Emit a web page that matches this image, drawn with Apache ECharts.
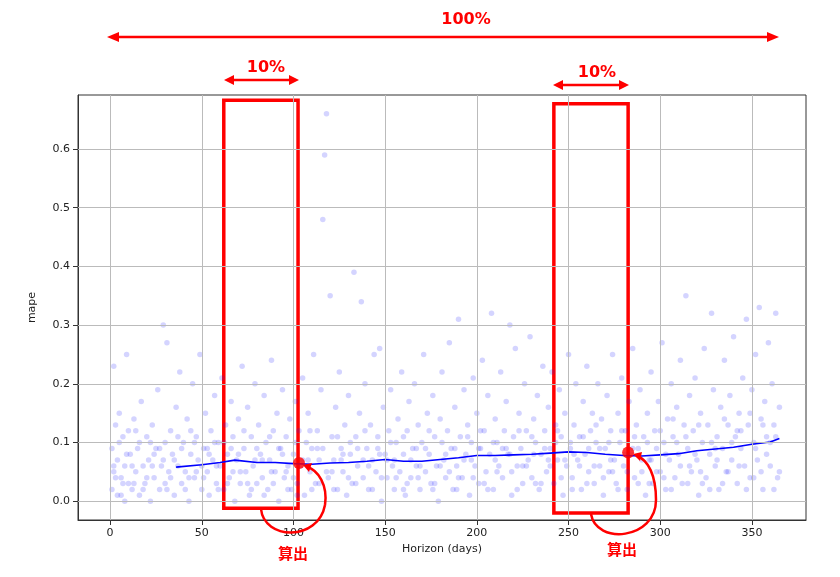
<!DOCTYPE html>
<html><head><meta charset="utf-8">
<script src="https://cdn.jsdelivr.net/npm/echarts@6/dist/echarts.min.js"></script>
<style>html,body{margin:0;padding:0;background:#fff}#c{width:840px;height:577px}</style>
</head><body><div id="c"></div>
<script>
const xTicks=[0,50,100,150,200,250,300,350];
const yTicks=[0,0.1,0.2,0.3,0.4,0.5,0.6];
const lineX=[36,50,60,68,80,90,100,110,120,130,140,150,160,170,180,190,200,210,220,230,240,250,260,270,280,290,300,310,320,330,340,350,360,365];
const lineY=[0.058,0.062,0.066,0.070,0.066,0.066,0.064,0.063,0.065,0.066,0.068,0.071,0.068,0.068,0.071,0.074,0.078,0.078,0.079,0.080,0.082,0.084,0.083,0.080,0.078,0.077,0.079,0.081,0.086,0.089,0.092,0.097,0.101,0.107];
const scatterPts=[
[1,0.02],[1,0.09],[2,0.23],[2,0.05],[3,0.13],[4,0.01],[4,0.07],[5,0.15],[6,0.04],[7,0.11],[8,0.0],[8,0.06],[9,0.25],[10,0.03],[10,0.12],[11,0.08],[12,0.02],[13,0.14],[14,0.05],[15,0.09],[16,0.01],[17,0.17],[18,0.06],[19,0.03],[20,0.11],[21,0.07],[22,0.0],[23,0.13],[24,0.04],[25,0.09],[26,0.19],[27,0.02],[28,0.06],[29,0.30],[30,0.1],[30,0.03],[31,0.27],[32,0.05],[33,0.12],[34,0.08],[35,0.01],[36,0.16],[37,0.06],[38,0.22],[39,0.03],[40,0.1],[41,0.05],[42,0.14],[43,0.0],[44,0.08],[45,0.2],[46,0.04],[47,0.11],[48,0.07],[49,0.25],[50,0.02],[51,0.09],[52,0.15],[53,0.05],[54,0.01],[55,0.12],[56,0.07],[57,0.18],[58,0.03],[59,0.1],[60,0.06],[61,0.21],[62,0.02],[63,0.13],[64,0.08],[65,0.04],[66,0.17],[67,0.11],[68,0.0],[69,0.07],[70,0.14],[71,0.03],[72,0.23],[73,0.09],[74,0.05],[75,0.16],[76,0.01],[77,0.11],[78,0.06],[79,0.2],[80,0.03],[81,0.13],[82,0.08],[83,0.04],[84,0.18],[85,0.1],[86,0.02],[87,0.07],[88,0.24],[89,0.12],[90,0.05],[91,0.15],[92,0.0],[93,0.09],[94,0.19],[95,0.04],[96,0.11],[97,0.06],[98,0.14],[99,0.02],[100,0.08],[101,0.17],[102,0.03],[103,0.12],[104,0.06],[105,0.21],[106,0.01],[107,0.1],[108,0.15],[109,0.05],[110,0.09],[111,0.25],[112,0.03],[113,0.12],[114,0.07],[115,0.19],[116,0.48],[117,0.59],[118,0.66],[119,0.04],[120,0.35],[121,0.11],[122,0.07],[123,0.16],[124,0.02],[125,0.22],[126,0.09],[127,0.05],[128,0.13],[129,0.01],[130,0.18],[131,0.08],[132,0.03],[133,0.39],[134,0.11],[135,0.06],[136,0.15],[137,0.34],[138,0.04],[139,0.2],[140,0.09],[141,0.02],[142,0.13],[143,0.07],[144,0.25],[145,0.05],[146,0.11],[147,0.26],[148,0.0],[149,0.16],[150,0.08],[151,0.04],[152,0.12],[153,0.19],[154,0.06],[155,0.02],[156,0.1],[157,0.14],[158,0.05],[159,0.22],[160,0.08],[161,0.01],[162,0.12],[163,0.17],[164,0.04],[165,0.09],[166,0.2],[167,0.06],[168,0.13],[169,0.02],[170,0.1],[171,0.25],[172,0.05],[173,0.15],[174,0.08],[175,0.03],[176,0.18],[177,0.11],[178,0.06],[179,0.0],[180,0.14],[181,0.22],[182,0.07],[183,0.04],[184,0.12],[185,0.27],[186,0.09],[187,0.02],[188,0.16],[189,0.06],[190,0.31],[191,0.11],[192,0.04],[193,0.19],[194,0.08],[195,0.13],[196,0.01],[197,0.1],[198,0.21],[199,0.06],[200,0.15],[201,0.03],[202,0.09],[203,0.24],[204,0.12],[205,0.05],[206,0.18],[207,0.08],[208,0.32],[209,0.02],[210,0.14],[211,0.1],[212,0.06],[213,0.22],[214,0.04],[215,0.12],[216,0.17],[217,0.08],[218,0.3],[219,0.01],[220,0.11],[221,0.26],[222,0.06],[223,0.15],[224,0.09],[225,0.03],[226,0.2],[227,0.12],[228,0.07],[229,0.28],[230,0.04],[231,0.14],[232,0.1],[233,0.18],[234,0.02],[235,0.08],[236,0.23],[237,0.12],[238,0.05],[239,0.16],[240,0.09],[241,0.22],[242,0.03],[243,0.13],[244,0.07],[245,0.19],[246,0.11],[247,0.01],[248,0.15],[249,0.06],[250,0.25],[251,0.09],[252,0.04],[253,0.13],[254,0.2],[255,0.07],[256,0.11],[257,0.02],[258,0.17],[259,0.08],[260,0.23],[261,0.05],[262,0.12],[263,0.15],[264,0.03],[265,0.1],[266,0.2],[267,0.06],[268,0.14],[269,0.01],[270,0.09],[271,0.18],[272,0.05],[273,0.12],[274,0.25],[275,0.07],[276,0.03],[277,0.15],[278,0.1],[279,0.21],[280,0.06],[281,0.12],[282,0.02],[283,0.17],[284,0.08],[285,0.26],[286,0.04],[287,0.13],[288,0.09],[289,0.19],[290,0.05],[291,0.11],[292,0.01],[293,0.15],[294,0.07],[295,0.22],[296,0.03],[297,0.12],[298,0.09],[299,0.17],[300,0.05],[301,0.27],[302,0.1],[303,0.02],[304,0.14],[305,0.07],[306,0.2],[307,0.11],[308,0.04],[309,0.16],[310,0.08],[311,0.24],[312,0.03],[313,0.13],[314,0.35],[315,0.09],[316,0.18],[317,0.05],[318,0.12],[319,0.21],[320,0.07],[321,0.01],[322,0.15],[323,0.1],[324,0.26],[325,0.04],[326,0.13],[327,0.08],[328,0.32],[329,0.19],[330,0.06],[331,0.11],[332,0.02],[333,0.16],[334,0.09],[335,0.24],[336,0.05],[337,0.13],[338,0.18],[339,0.07],[340,0.28],[341,0.11],[342,0.03],[343,0.15],[344,0.09],[345,0.21],[346,0.06],[347,0.31],[348,0.13],[349,0.04],[350,0.19],[351,0.1],[352,0.25],[353,0.07],[354,0.33],[355,0.14],[356,0.02],[357,0.17],[358,0.11],[359,0.27],[360,0.06],[361,0.2],[362,0.13],[363,0.32],[364,0.04],[365,0.16],
[3,0.04],[7,0.03],[12,0.06],[18,0.02],[24,0.08],[33,0.04],[41,0.02],[47,0.05],[53,0.09],[58,0.06],[64,0.03],[71,0.05],[77,0.02],[83,0.07],[89,0.03],[96,0.05],[102,0.01],[108,0.07],[114,0.03],[121,0.05],[127,0.08],[134,0.03],[141,0.06],[148,0.04],[155,0.07],[162,0.03],[169,0.06],[176,0.02],[183,0.08],[190,0.04],[197,0.07],[204,0.03],[211,0.05],[218,0.08],[225,0.06],[232,0.03],[239,0.07],[246,0.04],[253,0.08],[260,0.03],[267,0.09],[274,0.05],[281,0.08],[288,0.03],[295,0.07],[302,0.04],[309,0.1],[316,0.06],[323,0.03],[330,0.09],[337,0.05],[344,0.12],[351,0.04],[358,0.08],[365,0.05],
[5,0.1],[14,0.12],[22,0.1],[29,0.07],[37,0.11],[44,0.12],[51,0.04],[57,0.1],[66,0.09],[73,0.12],[80,0.09],[87,0.11],[94,0.08],[101,0.1],[109,0.12],[116,0.09],[124,0.11],[131,0.1],[139,0.12],[146,0.09],[153,0.1],[160,0.11],[167,0.09],[174,0.12],[181,0.1],[188,0.09],[195,0.11],[202,0.12],[209,0.1],[216,0.09],[223,0.12],[230,0.11],[237,0.09],[244,0.12],[251,0.1],[258,0.11],[265,0.13],[272,0.1],[279,0.12],[286,0.11],[293,0.1],[300,0.12],[307,0.14],[314,0.11],[321,0.13],[328,0.1],[335,0.14],[342,0.12],[349,0.15],[356,0.13],[363,0.11],
[2,0.06],[6,0.01],[9,0.08],[13,0.03],[16,0.1],[20,0.04],[23,0.06],[27,0.09],[31,0.02],[35,0.07],[39,0.09],[43,0.04],[46,0.1],[50,0.06],[54,0.08],[59,0.02],[62,0.1],[67,0.05],[70,0.08],[75,0.03],[79,0.07],[84,0.01],[88,0.05],[92,0.09],[97,0.02],[100,0.04],[105,0.07],[110,0.02],[113,0.09],[118,0.05],[122,0.02],[126,0.07],[130,0.04],[135,0.09],[138,0.07],[143,0.02],[147,0.08],[151,0.07],[156,0.04],[160,0.02],[164,0.07],[168,0.04],[172,0.09],[177,0.03],[180,0.06],[185,0.05],[189,0.02],[193,0.07],[198,0.04],[201,0.09],[206,0.02],[210,0.07],[214,0.09],[219,0.05],[222,0.02],[227,0.06],[231,0.08],[235,0.03],[240,0.06],[243,0.1],[248,0.07],[252,0.02],[256,0.06],[261,0.09],[264,0.06],[269,0.04],[273,0.07],[277,0.02],[282,0.05],[285,0.09],[290,0.07],[294,0.03],[298,0.05],[303,0.08],[306,0.02],[311,0.06],[315,0.03],[319,0.08],[322,0.05],[327,0.02],[331,0.07],[334,0.03],[339,0.1],[343,0.06],[347,0.02],[352,0.09],[355,0.05],[360,0.1],[362,0.02]
];
const leftBox=[62,102.5,-0.012,0.683];
const rightBox=[242,282.5,-0.02,0.677];
const dots=[[103,0.065],[282.5,0.083]];

const chart=echarts.init(document.getElementById('c'));
const red='#ff0000';
function boxArea(b){return [{xAxis:b[0],yAxis:b[2]},{xAxis:b[1],yAxis:b[3]}];}
function bz(a,b,c,d){return {type:'bezierCurve',shape:{x1:a[0],y1:a[1],cpx1:b[0],cpy1:b[1],cpx2:c[0],cpy2:c[1],x2:d[0],y2:d[1]},style:{stroke:red,lineWidth:2.5,fill:null},z:10};}
chart.setOption({
  animation:false,
  grid:{left:78,right:34,top:95,bottom:57,show:true,borderColor:'#333',borderWidth:1,backgroundColor:'transparent'},
  xAxis:{type:'value',min:-17.5,max:379.5,name:'Horizon (days)',nameLocation:'middle',nameGap:24,
    nameTextStyle:{color:'#222',fontSize:11,fontFamily:'DejaVu Sans'},
    axisLine:{onZero:false,lineStyle:{color:'#333'}},
    axisLabel:{color:'#222',fontSize:11,fontFamily:'DejaVu Sans',customValues:xTicks},
    axisTick:{show:true,customValues:xTicks,lineStyle:{color:'#333'}},
    splitLine:{show:false}},
  yAxis:{type:'value',min:-0.032,max:0.692,name:'mape',nameLocation:'middle',nameGap:40,
    nameTextStyle:{color:'#222',fontSize:11,fontFamily:'DejaVu Sans'},
    axisLine:{show:true,onZero:false,lineStyle:{color:'#333'}},
    axisLabel:{color:'#222',fontSize:11,fontFamily:'DejaVu Sans',customValues:yTicks,formatter:v=>v.toFixed(1)},
    axisTick:{show:true,customValues:yTicks,lineStyle:{color:'#333'}},
    splitLine:{show:false}},
  series:[
    {type:'line',silent:true,data:[],
      markLine:{symbol:'none',silent:true,label:{show:false},lineStyle:{color:'#bbb',type:'solid',width:1},
        data:xTicks.map(v=>({xAxis:v})).concat(yTicks.map(v=>({yAxis:v})))}},
    {type:'scatter',data:scatterPts,symbolSize:5.5,itemStyle:{color:'rgba(30,30,255,0.24)'},z:2},
    {type:'line',data:lineX.map((x,i)=>[x,lineY[i]]),showSymbol:false,lineStyle:{color:'#0000ff',width:1.6},z:3,
      markArea:{silent:true,itemStyle:{color:'rgba(0,0,0,0)',borderColor:red,borderWidth:3.5},data:[boxArea(leftBox),boxArea(rightBox)]}},
    {type:'scatter',data:dots,symbolSize:12,itemStyle:{color:red},z:5}
  ],
  graphic:[
    {type:'line',shape:{x1:114,y1:37,x2:772,y2:37},style:{stroke:red,lineWidth:2.5}},
    {type:'polygon',shape:{points:[[107,37],[119,32],[119,42]]},style:{fill:red}},
    {type:'polygon',shape:{points:[[779,37],[767,32],[767,42]]},style:{fill:red}},
    {type:'text',x:466,y:20,style:{text:'100%',fill:red,font:'bold 16px "DejaVu Sans"',textAlign:'center',textVerticalAlign:'middle'}},
    {type:'line',shape:{x1:230,y1:80,x2:293,y2:80},style:{stroke:red,lineWidth:2.5}},
    {type:'polygon',shape:{points:[[224,80],[234,75],[234,85]]},style:{fill:red}},
    {type:'polygon',shape:{points:[[299,80],[289,75],[289,85]]},style:{fill:red}},
    {type:'text',x:266,y:68,style:{text:'10%',fill:red,font:'bold 16px "DejaVu Sans"',textAlign:'center',textVerticalAlign:'middle'}},
    {type:'line',shape:{x1:559,y1:85,x2:623,y2:85},style:{stroke:red,lineWidth:2.5}},
    {type:'polygon',shape:{points:[[553,85],[563,80],[563,90]]},style:{fill:red}},
    {type:'polygon',shape:{points:[[629,85],[619,80],[619,90]]},style:{fill:red}},
    {type:'text',x:597,y:73,style:{text:'10%',fill:red,font:'bold 16px "DejaVu Sans"',textAlign:'center',textVerticalAlign:'middle'}},
    bz([261,509],[264,540],[318,542],[325,505]),
    bz([325,505],[328,485],[318,470],[307,467]),
    {type:'polygon',shape:{points:[[303,465],[312,463],[309,472]]},style:{fill:red},z:10},
    bz([591,514],[596,545],[656,540],[656,500]),
    bz([656,500],[656,475],[648,460],[637,456]),
    {type:'polygon',shape:{points:[[633,454],[642,452],[640,461]]},style:{fill:red},z:10},
    {type:'text',x:293,y:553,style:{text:'算出',fill:red,font:'bold 15px "Noto Sans CJK JP"',textAlign:'center',textVerticalAlign:'middle'}},
    {type:'text',x:622,y:549,style:{text:'算出',fill:red,font:'bold 15px "Noto Sans CJK JP"',textAlign:'center',textVerticalAlign:'middle'}}
  ]
});
</script></body></html>
